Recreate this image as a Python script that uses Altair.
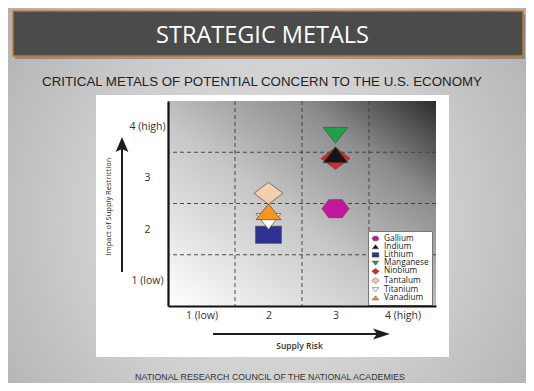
import json
import altair as alt
import pandas as pd

# ---------------- data ----------------
metals = ["Gallium", "Niobium", "Indium", "Manganese", "Lithium", "Titanium", "Vanadium", "Tantalum"]
supply_risk = [3, 3, 3, 3, 2, 2, 2, 2]
impact = [2.40, 3.38, 3.45, 3.83, 1.89, 2.15, 2.34, 2.70]

legend_order = ["Gallium", "Indium", "Lithium", "Manganese", "Niobium", "Tantalum", "Titanium", "Vanadium"]
metal_colors = ["#c4169c", "#151515", "#2d3192", "#21a048", "#e4202a", "#f4cfae", "#ffffff", "#f7951e"]

HEXAGON = "M-0.9,0L-0.45,-0.6L0.45,-0.6L0.9,0L0.45,0.6L-0.45,0.6Z"
TRI_UP = "M0,-0.53L0.83,0.53L-0.83,0.53Z"
TRI_DOWN = "M-0.83,-0.53L0.83,-0.53L0,0.53Z"
RECTANGLE = "M-0.86,-0.57H0.86V0.57H-0.86Z"
DIAMOND = "M0,-0.73L0.97,0L0,0.73L-0.97,0Z"
metal_shapes = [HEXAGON, TRI_UP, RECTANGLE, TRI_DOWN, DIAMOND, DIAMOND, TRI_DOWN, TRI_UP]

tick_values = [1, 2, 3, 4]
x_tick_labels = ["1 (low)", "2", "3", "4 (high)"]
y_tick_labels = ["1 (low)", "2", "3", "4 (high)"]
grid_positions = [1.5, 2.5, 3.5]
axis_domain = [0.5, 4.5]

slide_title = "STRATEGIC METALS"
slide_subtitle = "CRITICAL METALS OF POTENTIAL CONCERN TO THE U.S. ECONOMY"
x_title = "Supply Risk"
y_title = "Impact of Supply Restriction"
footer = "NATIONAL RESEARCH COUNCIL OF THE NATIONAL ACADEMIES"

# ---------------- layout ----------------
W, H = 268, 205
PAD = {"left": 160, "top": 93, "right": 90, "bottom": 77}
FONT = "Open Sans"

df = pd.DataFrame({"Metal": metals, "Supply Risk": supply_risk, "Impact": impact})
grid_df = pd.DataFrame({"g": grid_positions})
one = pd.DataFrame({"k": [0]})

xscale = alt.Scale(domain=axis_domain, nice=False, zero=False)
yscale = alt.Scale(domain=axis_domain, nice=False, zero=False)

xaxis = alt.Axis(
    values=tick_values,
    labelExpr=json.dumps(x_tick_labels) + "[datum.value - 1]",
    ticks=False, tickSize=0, grid=False,
    domainColor="#111111", domainWidth=2.2,
    labelPadding=4, labelFont=FONT, labelFontSize=10.5, labelColor="#333333",
    title=x_title, titleX=131, titleY=39, titleAlign="center", titleBaseline="middle",
    titleFont=FONT, titleFontSize=8.5, titleFontWeight=600, titleColor="#333333",
    zindex=1,
)
yaxis = alt.Axis(
    values=tick_values,
    labelExpr=json.dumps(y_tick_labels) + "[datum.value - 1]",
    ticks=False, tickSize=0, grid=False,
    domainColor="#111111", domainWidth=2.2,
    labelPadding=21, labelAlign="center", labelBaseline="middle",
    labelFont=FONT, labelFontSize=10.5, labelColor="#333333",
    title=y_title, titleX=-60, titleY=105, titleAngle=270, titleAlign="center",
    titleBaseline="middle", titleFont=FONT, titleFontSize=7.5, titleFontWeight="normal",
    titleColor="#222222",
    zindex=1,
)

legend = alt.Legend(
    title=None, orient="none", legendX=200, legendY=130,
    fillColor="white", strokeColor="#777777", padding=3,
    symbolSize=60, symbolStrokeColor="#444444", symbolStrokeWidth=0.5,
    labelFont=FONT, labelFontSize=8.3, labelColor="#222222", labelOffset=4,
    rowPadding=-0.8,
)


def deco():
    return alt.Chart(one)


slide_bg = deco().mark_rect(
    fill=alt.RadialGradient(
        gradient="radial", x1=0.5, y1=0.55, r1=0, x2=0.5, y2=0.55, r2=0.75,
        stops=[alt.GradientStop(color="#e4e4e4", offset=0),
               alt.GradientStop(color="#cfcfcf", offset=0.45),
               alt.GradientStop(color="#a6a6a6", offset=1)],
    )
).encode(x=alt.value(-160), x2=alt.value(358), y=alt.value(-93), y2=alt.value(282))

bar_shadow = deco().mark_rect(fill="#000000", opacity=0.25).encode(
    x=alt.value(-153), x2=alt.value(357), y=alt.value(-87), y2=alt.value(-42))
title_bar = deco().mark_rect(fill="#4b4b4b", stroke="#c57a2c", strokeWidth=1.5).encode(
    x=alt.value(-155), x2=alt.value(355), y=alt.value(-90), y2=alt.value(-45))
title_text = deco().mark_text(
    text=slide_title, font=FONT, fontSize=23.5, fontWeight=500, color="white",
    align="center", baseline="alphabetic"
).encode(x=alt.value(94.5), y=alt.value(-58))
subtitle_text = deco().mark_text(
    text=slide_subtitle, font="Liberation Sans", fontSize=13.3, color="#222222",
    align="center", baseline="alphabetic"
).encode(x=alt.value(94), y=alt.value(-15))

panel = deco().mark_rect(fill="white").encode(
    x=alt.value(-72), x2=alt.value(281), y=alt.value(-6), y2=alt.value(256))

plot_bg = deco().mark_rect(
    fill=alt.LinearGradient(
        gradient="linear", x1=0, y1=1, x2=1, y2=0,
        stops=[alt.GradientStop(color="#ffffff", offset=0),
               alt.GradientStop(color="#c6c6c6", offset=0.45),
               alt.GradientStop(color="#8c8c8c", offset=0.75),
               alt.GradientStop(color="#2c2c2c", offset=1)],
    )
).encode(x=alt.value(0), x2=alt.value(W), y=alt.value(0), y2=alt.value(H))

vgrid = alt.Chart(grid_df).mark_rule(color="#3a3a3a", strokeWidth=0.9, strokeDash=[4, 3]).encode(
    x=alt.X("g:Q", scale=xscale, axis=xaxis))
hgrid = alt.Chart(grid_df).mark_rule(color="#3a3a3a", strokeWidth=0.9, strokeDash=[4, 3]).encode(
    y=alt.Y("g:Q", scale=yscale, axis=yaxis))

x_shaft = deco().mark_rule(color="#1e1e1e", strokeWidth=2).encode(
    x=alt.value(45), x2=alt.value(212), y=alt.value(233))
x_head = deco().mark_point(
    shape="M-1,-0.65L1,0L-1,0.65L-0.55,0Z", filled=True, color="#1e1e1e", opacity=1, size=289
).encode(x=alt.value(213.5), y=alt.value(233))
y_shaft = deco().mark_rule(color="#1e1e1e", strokeWidth=2).encode(
    x=alt.value(-46), y=alt.value(46), y2=alt.value(171))
y_head = deco().mark_point(
    shape="M-0.85,1L0,-1L0.85,1L0,0.6Z", filled=True, color="#1e1e1e", opacity=1, size=225
).encode(x=alt.value(-46), y=alt.value(43.5))

points = alt.Chart(df).mark_point(
    filled=True, opacity=1, size=900, stroke="#4a4a4a", strokeWidth=0.7
).encode(
    x=alt.X("Supply Risk:Q", scale=xscale, axis=xaxis),
    y=alt.Y("Impact:Q", scale=yscale, axis=yaxis),
    color=alt.Color("Metal:N", scale=alt.Scale(domain=legend_order, range=metal_colors), legend=legend),
    shape=alt.Shape("Metal:N", scale=alt.Scale(domain=legend_order, range=metal_shapes), legend=legend),
)

footer_text = deco().mark_text(
    text=footer, font="Liberation Sans", fontSize=8.8, color="#333333", align="center", baseline="middle"
).encode(x=alt.value(102), y=alt.value(276))

chart = alt.layer(
    slide_bg, bar_shadow, title_bar, title_text, subtitle_text, panel, plot_bg,
    vgrid, hgrid, x_shaft, x_head, y_shaft, y_head, points, footer_text
).properties(
    width=W, height=H,
    autosize=alt.AutoSizeParams(type="none"),
    padding=PAD,
).configure_view(stroke=None).configure(background="#a8a8a8")

chart.save("out.html", embed_options={"renderer": "svg", "actions": False})
